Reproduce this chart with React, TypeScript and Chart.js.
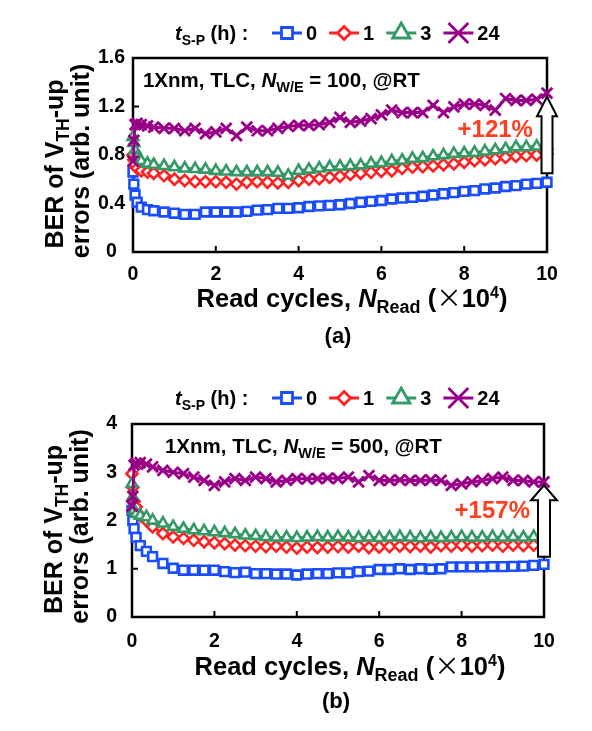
import React, { useEffect, useRef } from 'react';
import { Chart, registerables } from 'chart.js';
import { drawPoint } from 'chart.js/helpers';

Chart.register(...registerables);

// ---------- data ----------
const READ_CYCLES = [0, 0.02, 0.05, 0.1, 0.2, 0.35, 0.5, 0.75, 1, 1.25, 1.5, 1.75, 2, 2.25, 2.5, 2.75, 3, 3.25, 3.5, 3.75, 4, 4.25, 4.5, 4.75, 5, 5.25, 5.5, 5.75, 6, 6.25, 6.5, 6.75, 7, 7.25, 7.5, 7.75, 8, 8.25, 8.5, 8.75, 9, 9.25, 9.5, 9.75, 10];
const SERIES_LABELS = ['0', '1', '3', '24'];
const X_TICKS = [0, 2, 4, 6, 8, 10];

// (a) N_W/E = 100
const A_T0 = [0.66, 0.56, 0.47, 0.41, 0.37, 0.35, 0.34, 0.33, 0.32, 0.31, 0.31, 0.33, 0.33, 0.33, 0.33, 0.335, 0.345, 0.35, 0.36, 0.36, 0.365, 0.375, 0.38, 0.385, 0.39, 0.40, 0.41, 0.417, 0.425, 0.437, 0.445, 0.45, 0.46, 0.47, 0.48, 0.49, 0.50, 0.506, 0.52, 0.528, 0.54, 0.547, 0.56, 0.566, 0.575];
const A_T1 = [0.80, 0.76, 0.72, 0.69, 0.67, 0.66, 0.65, 0.63, 0.60, 0.59, 0.58, 0.58, 0.58, 0.575, 0.56, 0.575, 0.58, 0.575, 0.57, 0.575, 0.59, 0.60, 0.605, 0.616, 0.625, 0.64, 0.65, 0.657, 0.665, 0.67, 0.69, 0.70, 0.705, 0.71, 0.72, 0.727, 0.74, 0.755, 0.76, 0.77, 0.78, 0.79, 0.795, 0.80, 0.81];
const A_T3 = [0.95, 0.90, 0.84, 0.78, 0.75, 0.73, 0.72, 0.71, 0.70, 0.69, 0.685, 0.68, 0.67, 0.665, 0.66, 0.66, 0.66, 0.66, 0.655, 0.63, 0.67, 0.68, 0.69, 0.70, 0.705, 0.71, 0.715, 0.73, 0.735, 0.75, 0.755, 0.77, 0.775, 0.79, 0.80, 0.81, 0.815, 0.82, 0.83, 0.84, 0.85, 0.865, 0.865, 0.87, 0.88];
const A_T24 = [0.75, 0.92, 1.05, 1.06, 1.05, 1.04, 1.03, 1.02, 1.02, 1.00, 1.02, 0.976, 0.99, 1.02, 0.96, 1.03, 1.00, 1.00, 1.02, 1.035, 1.045, 1.045, 1.05, 1.07, 1.11, 1.07, 1.08, 1.10, 1.13, 1.17, 1.15, 1.15, 1.15, 1.21, 1.15, 1.196, 1.22, 1.22, 1.21, 1.17, 1.266, 1.25, 1.25, 1.26, 1.31];
const A_Y_TICKS = [0, 0.4, 0.8, 1.2, 1.6];
const A_ARROW = [0.65, 1.12, 1.28]; // base, head base, tip (y values at x = 10)
const A_PCT = { text: '+121%', x: 9.66, y: 1.0 };

// (b) N_W/E = 500
const B_T0 = [2.21, 2.0, 1.83, 1.65, 1.48, 1.36, 1.25, 1.11, 1.01, 0.97, 0.97, 0.97, 0.97, 0.94, 0.92, 0.93, 0.90, 0.90, 0.89, 0.89, 0.87, 0.89, 0.90, 0.90, 0.915, 0.915, 0.94, 0.95, 0.985, 0.985, 1.0, 0.985, 1.0, 0.99, 1.0, 1.04, 1.04, 1.04, 1.04, 1.045, 1.045, 1.05, 1.055, 1.07, 1.09];
const B_T1 = [2.97, 2.69, 2.4, 2.28, 2.1, 2.0, 1.87, 1.73, 1.66, 1.63, 1.59, 1.56, 1.54, 1.52, 1.49, 1.48, 1.47, 1.46, 1.47, 1.45, 1.43, 1.45, 1.44, 1.45, 1.46, 1.45, 1.47, 1.44, 1.45, 1.46, 1.47, 1.46, 1.47, 1.45, 1.48, 1.47, 1.49, 1.47, 1.48, 1.49, 1.47, 1.49, 1.48, 1.49, 1.49];
const B_T3 = [2.76, 2.49, 2.21, 2.14, 2.1, 2.07, 2.0, 1.94, 1.87, 1.83, 1.80, 1.78, 1.76, 1.74, 1.72, 1.69, 1.68, 1.66, 1.65, 1.65, 1.64, 1.65, 1.66, 1.65, 1.66, 1.65, 1.64, 1.65, 1.64, 1.65, 1.66, 1.65, 1.64, 1.65, 1.64, 1.65, 1.66, 1.65, 1.65, 1.66, 1.65, 1.66, 1.65, 1.66, 1.66];
const B_T24 = [2.3, 2.5, 3.15, 3.19, 3.2, 3.17, 3.11, 3.04, 3.0, 2.97, 2.9, 2.83, 2.73, 2.8, 2.87, 2.83, 2.9, 2.87, 2.8, 2.83, 2.87, 2.86, 2.87, 2.88, 2.87, 2.9, 2.8, 2.93, 2.83, 2.83, 2.84, 2.83, 2.83, 2.84, 2.83, 2.73, 2.76, 2.8, 2.83, 2.87, 2.9, 2.83, 2.83, 2.8, 2.8];
const B_Y_TICKS = [0, 1, 2, 3, 4];
const B_ARROW = [1.25, 2.42, 2.73];
const B_PCT = { text: '+157%', x: 9.66, y: 2.18 };

// ---------- styles ----------
const FAM = "'Liberation Sans', Arial, Helvetica, sans-serif";
const COLORS = ['#1a4dff', '#ff2222', '#339966', '#990088'];
const STYLES = ['rect', 'rectRot', 'triangle', 'crossRot'];
const RADII = [6.2, 5.6, 6.2, 7.6];
const LEGEND_RADII = [7.8, 6.5, 10, 14];
const PCT_COLOR = '#ff3d1f';

type Seg = { t: string; f: string; dy?: number };

function richWidth(ctx: CanvasRenderingContext2D, segs: Seg[]) {
  let w = 0;
  for (const s of segs) {
    ctx.font = s.f;
    w += ctx.measureText(s.t).width;
  }
  return w;
}

function drawRich(ctx: CanvasRenderingContext2D, segs: Seg[], x: number, y: number, align: 'left' | 'center' | 'right') {
  const w = richWidth(ctx, segs);
  let cx = align === 'center' ? x - w / 2 : align === 'right' ? x - w : x;
  ctx.textAlign = 'left';
  ctx.textBaseline = 'alphabetic';
  for (const s of segs) {
    ctx.font = s.f;
    ctx.fillText(s.t, cx, y + (s.dy || 0));
    cx += ctx.measureText(s.t).width;
  }
}

type PanelCfg = {
  series: number[][];
  yTicks: number[];
  arrow: number[];
  pct: { text: string; x: number; y: number };
  nwe: string;
  noteX: number;
  tag: string;
  padding: { top: number; left: number; right: number; bottom: number };
  yTickPad: number;
  xTickPad: number;
  titleDy: number;
  arrowW: [number, number];
};

const PANEL_A: PanelCfg = {
  series: [A_T0, A_T1, A_T3, A_T24],
  yTicks: A_Y_TICKS,
  arrow: A_ARROW,
  pct: A_PCT,
  nwe: '100',
  noteX: 0.24,
  tag: '(a)',
  padding: { top: 58, left: 73, right: 45, bottom: 83 },
  yTickPad: 8,
  xTickPad: 11,
  titleDy: 0,
  arrowW: [5.5, 10],
};

const PANEL_B: PanelCfg = {
  series: [B_T0, B_T1, B_T3, B_T24],
  yTicks: B_Y_TICKS,
  arrow: B_ARROW,
  pct: B_PCT,
  nwe: '500',
  noteX: 0.8,
  tag: '(b)',
  padding: { top: 59, left: 72, right: 48, bottom: 84 },
  yTickPad: 15,
  xTickPad: 13,
  titleDy: 3,
  arrowW: [6, 13],
};

function makeDecor(cfg: PanelCfg) {
  return {
    id: 'decor',
    beforeDatasetsDraw(chart: any) {
      const { ctx, chartArea: a, scales } = chart;
      ctx.save();
      ctx.strokeStyle = '#000';
      ctx.lineWidth = 2.5;
      ctx.strokeRect(a.left, a.top, a.right - a.left, a.bottom - a.top);
      ctx.lineWidth = 2;
      ctx.beginPath();
      for (const v of X_TICKS.slice(1, -1)) {
        const px = scales.x.getPixelForValue(v);
        ctx.moveTo(px, a.bottom);
        ctx.lineTo(px, a.bottom - 6);
      }
      for (const v of cfg.yTicks.slice(1, -1)) {
        const py = scales.y.getPixelForValue(v);
        ctx.moveTo(a.left, py);
        ctx.lineTo(a.left + 6, py);
      }
      ctx.stroke();
      ctx.restore();
    },
    afterDatasetsDraw(chart: any) {
      const { ctx, chartArea: a, scales } = chart;
      const xs = scales.x;
      const ys = scales.y;
      ctx.save();
      // arrow
      const cx = xs.getPixelForValue(10);
      const yb = ys.getPixelForValue(cfg.arrow[0]);
      const yh = ys.getPixelForValue(cfg.arrow[1]);
      const yt = ys.getPixelForValue(cfg.arrow[2]);
      const [sw, hw] = cfg.arrowW;
      ctx.beginPath();
      ctx.moveTo(cx - sw, yb);
      ctx.lineTo(cx - sw, yh);
      ctx.lineTo(cx - hw, yh);
      ctx.lineTo(cx, yt);
      ctx.lineTo(cx + hw, yh);
      ctx.lineTo(cx + sw, yh);
      ctx.lineTo(cx + sw, yb);
      ctx.closePath();
      ctx.fillStyle = '#fff';
      ctx.fill();
      ctx.strokeStyle = '#000';
      ctx.lineWidth = 2;
      ctx.lineJoin = 'miter';
      ctx.stroke();
      // percent label
      ctx.fillStyle = PCT_COLOR;
      ctx.font = `bold 24px ${FAM}`;
      ctx.textAlign = 'right';
      ctx.textBaseline = 'middle';
      ctx.fillText(cfg.pct.text, xs.getPixelForValue(cfg.pct.x), ys.getPixelForValue(cfg.pct.y));
      // condition note
      ctx.fillStyle = '#000';
      drawRich(
        ctx,
        [
          { t: '1Xnm, TLC, ', f: `bold 20.5px ${FAM}` },
          { t: 'N', f: `italic bold 20.5px ${FAM}` },
          { t: 'W/E', f: `bold 14.5px ${FAM}`, dy: 5 },
          { t: ` = ${cfg.nwe}, @RT`, f: `bold 20.5px ${FAM}` },
        ],
        xs.getPixelForValue(cfg.noteX),
        a.top + 29,
        'left'
      );
      ctx.restore();
    },
    afterDraw(chart: any) {
      const { ctx, chartArea: a } = chart;
      ctx.save();
      ctx.fillStyle = '#000';
      // legend
      const ly = 33;
      drawRich(
        ctx,
        [
          { t: 't', f: `italic bold 20px ${FAM}` },
          { t: 'S-P', f: `bold 14px ${FAM}`, dy: 5 },
          { t: ' (h) :', f: `bold 20px ${FAM}` },
        ],
        175,
        ly + 7,
        'left'
      );
      let lx = 272;
      chart.data.datasets.forEach((ds: any, i: number) => {
        ctx.strokeStyle = ds.borderColor;
        ctx.lineWidth = 3;
        ctx.beginPath();
        ctx.moveTo(lx, ly);
        ctx.lineTo(lx + 30, ly);
        ctx.stroke();
        ctx.fillStyle = '#fff';
        ctx.lineWidth = 2.8;
        drawPoint(ctx, { pointStyle: ds.pointStyle, rotation: 0, radius: LEGEND_RADII[i], borderWidth: 2.8 } as any, lx + 15, ly);
        ctx.fillStyle = '#000';
        ctx.font = `bold 20px ${FAM}`;
        ctx.textAlign = 'left';
        ctx.textBaseline = 'middle';
        ctx.fillText(ds.label, lx + 34, ly + 1);
        lx += 34 + ctx.measureText(ds.label).width + 12;
      });
      // y title (two lines, rotated)
      const cy = (a.top + a.bottom) / 2;
      const tf = `bold 25px ${FAM}`;
      ctx.save();
      ctx.translate(a.left - 70, cy + 9);
      ctx.rotate(-Math.PI / 2);
      drawRich(
        ctx,
        [
          { t: 'BER of V', f: tf },
          { t: 'TH', f: `bold 17.5px ${FAM}`, dy: 6 },
          { t: '-up', f: tf },
        ],
        0,
        0,
        'center'
      );
      ctx.restore();
      ctx.save();
      ctx.translate(a.left - 44, cy + 6);
      ctx.rotate(-Math.PI / 2);
      drawRich(ctx, [{ t: 'errors (arb. unit)', f: tf }], 0, 0, 'center');
      ctx.restore();
      // x title
      const mx = (a.left + a.right) / 2;
      drawRich(
        ctx,
        [
          { t: 'Read cycles, ', f: `bold 25.5px ${FAM}` },
          { t: 'N', f: `italic bold 25.5px ${FAM}` },
          { t: 'Read', f: `bold 18px ${FAM}`, dy: 6 },
          { t: ' (', f: `bold 25.5px ${FAM}` },
          { t: '×', f: `normal 25.5px 'Noto Sans CJK JP', sans-serif` },
          { t: '10', f: `bold 25.5px ${FAM}` },
          { t: '4', f: `bold 16px ${FAM}`, dy: -9 },
          { t: ')', f: `bold 25.5px ${FAM}` },
        ],
        mx + 12,
        a.bottom + 55 + cfg.titleDy,
        'center'
      );
      // panel tag
      ctx.font = `bold 22px ${FAM}`;
      ctx.textAlign = 'center';
      ctx.textBaseline = 'alphabetic';
      ctx.fillText(cfg.tag, mx - 2, a.bottom + 91);
      ctx.restore();
    },
  };
}

function buildConfig(cfg: PanelCfg): any {
  const tickFont = { family: FAM, size: 19.5, weight: 'bold' as const };
  const yMax = cfg.yTicks[cfg.yTicks.length - 1];
  const datasets = cfg.series.map((vals, i) => ({
    label: SERIES_LABELS[i],
    data: READ_CYCLES.map((x, j) => ({ x, y: vals[j] })),
    borderColor: COLORS[i],
    backgroundColor: '#ffffff',
    borderWidth: 3,
    pointStyle: STYLES[i],
    pointRadius: RADII[i],
    pointBorderWidth: i === 3 ? 2.8 : 2.6,
    pointBackgroundColor: '#ffffff',
    pointBorderColor: COLORS[i],
    pointHoverRadius: RADII[i],
    tension: 0,
    clip: false,
    order: 4 - i,
  }));
  return {
    type: 'line',
    data: { datasets },
    options: {
      animation: false,
      responsive: false,
      events: [],
      layout: { padding: cfg.padding },
      plugins: { legend: { display: false }, tooltip: { enabled: false } },
      scales: {
        x: {
          type: 'linear',
          min: 0,
          max: 10,
          afterBuildTicks: (s: any) => {
            s.ticks = X_TICKS.map((v) => ({ value: v }));
          },
          ticks: { font: tickFont, color: '#000', padding: cfg.xTickPad, maxRotation: 0, autoSkip: false },
          grid: { display: false, drawTicks: false },
          border: { display: false },
          afterFit: (s: any) => {
            s.height = 30;
          },
        },
        y: {
          type: 'linear',
          min: 0,
          max: yMax,
          afterBuildTicks: (s: any) => {
            s.ticks = cfg.yTicks.map((v) => ({ value: v }));
          },
          ticks: { font: tickFont, color: '#000', padding: cfg.yTickPad, crossAlign: 'center', autoSkip: false },
          grid: { display: false, drawTicks: false },
          border: { display: false },
          afterFit: (s: any) => {
            s.width = 60;
          },
        },
      },
    },
    plugins: [makeDecor(cfg)],
  };
}

function Panel({ cfg, height }: { cfg: PanelCfg; height: number }) {
  const ref = useRef<HTMLCanvasElement>(null);
  useEffect(() => {
    const chart = new Chart(ref.current as HTMLCanvasElement, buildConfig(cfg));
    return () => chart.destroy();
  }, [cfg]);
  return <canvas ref={ref} width={592} height={height} style={{ display: 'block', width: 592, height }} />;
}

export default function App() {
  return (
    <div style={{ position: 'absolute', left: 0, top: 0, width: 592, height: 731, background: '#ffffff' }}>
      <Panel cfg={PANEL_A} height={365} />
      <Panel cfg={PANEL_B} height={366} />
    </div>
  );
}
